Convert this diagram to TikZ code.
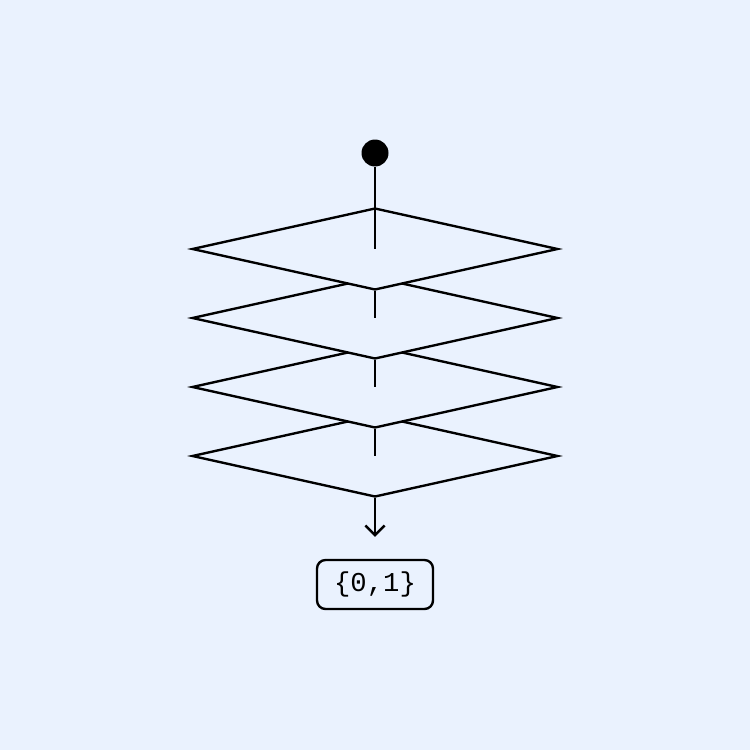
\documentclass[tikz,border=0pt]{standalone}
\usepackage{fontspec}
\setmonofont{Liberation Mono}
\usetikzlibrary{shapes.geometric,arrows.meta}
\definecolor{bgblue}{RGB}{234,242,254}
\tikzset{
  layer/.style={diamond,draw,fill=bgblue,line width=1.35pt,inner sep=0pt,
    minimum width=7.32cm,minimum height=1.64cm},
  wire/.style={line width=1.35pt},
}
\begin{document}
\begin{tikzpicture}[x=0.02cm,y=-0.02cm]
\fill[bgblue] (0,0) rectangle (750,750);
\useasboundingbox (0,0) rectangle (750,750);
\path (375,456) node[layer](l4){}
      (375,387) node[layer](l3){}
      (375,318) node[layer](l2){}
      (375,249) node[layer](l1){}
      (375,153) node[circle,fill=black,inner sep=0pt,minimum size=0.54cm](in){}
      (375,584.5) node[draw,line width=1.35pt,rounded corners=0.17cm,
        minimum width=2.32cm,minimum height=0.98cm,
        font=\ttfamily\fontsize{15.5pt}{18pt}\selectfont](out){\{0,1\}};
\draw[wire] (in) -- (l1.center);
\draw[wire] (l1.south) -- (l2.center);
\draw[wire] (l2.south) -- (l3.center);
\draw[wire] (l3.south) -- (l4.center);
\draw[wire,-{Straight Barb[length=5.5pt,width=11pt]},shorten >=0.44cm] (l4.south) -- (out.north);
\end{tikzpicture}
\end{document}
